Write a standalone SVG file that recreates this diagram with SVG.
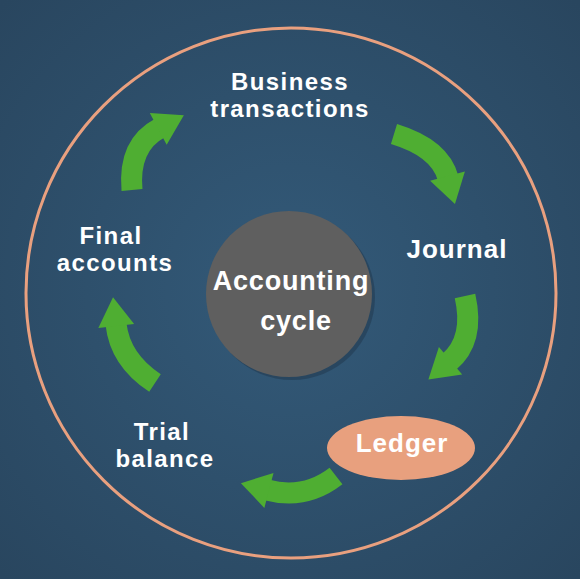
<svg xmlns="http://www.w3.org/2000/svg" width="580" height="579" viewBox="0 0 580 579">
<defs>
<radialGradient id="bg" cx="50%" cy="50%" r="70%">
<stop offset="0" stop-color="#335a79"/>
<stop offset="1" stop-color="#29465f"/>
</radialGradient>
<marker id="head" markerUnits="userSpaceOnUse" markerWidth="40" markerHeight="40" refX="0" refY="0" orient="auto" overflow="visible">
<path d="M-2,-18 L27,0 L-2,18 Z" fill="#4fae32"/>
</marker>
<style>
.lbl{font-family:"Liberation Sans",Arial,sans-serif;font-weight:700;fill:#ffffff;text-anchor:middle;font-size:24px;letter-spacing:1.4px}
.one{font-size:26px;letter-spacing:1px}
.big{font-size:27px;letter-spacing:0.8px}
.arr{fill:none;stroke:#4fae32;stroke-width:21;stroke-linecap:butt;marker-end:url(#head)}
</style>
</defs>
<rect width="580" height="579" fill="url(#bg)"/>
<circle cx="291" cy="293" r="265" fill="none" stroke="#e9a07f" stroke-width="3"/>
<g id="center">
<circle cx="292" cy="297" r="83" fill="#1f3447" opacity="0.45"/>
<circle cx="289" cy="294" r="83" fill="#5f5f5f"/>
<text class="lbl big" x="291" y="290">Accounting</text>
<text class="lbl big" x="296" y="330">cycle</text>
</g>
<g id="business">
<text class="lbl" x="290" y="90">Business</text>
<text class="lbl" x="290" y="117">transactions</text>
</g>
<g id="journal">
<text class="lbl one" x="457" y="258">Journal</text>
</g>
<g id="ledger">
<ellipse cx="401" cy="448" rx="74" ry="32" fill="#e8a07e"/>
<text class="lbl one" x="402" y="452">Ledger</text>
</g>
<g id="trial">
<text class="lbl" x="162" y="440">Trial</text>
<text class="lbl" x="165" y="467">balance</text>
</g>
<g id="final">
<text class="lbl" x="111" y="244">Final</text>
<text class="lbl" x="115" y="271">accounts</text>
</g>
<g id="connectors">
<path class="arr" d="M394,134 Q440,148 448,178"/>
<path class="arr" d="M465,296 Q475,340 449,362"/>
<path class="arr" d="M336,476 Q305,500 267,490"/>
<path class="arr" d="M155,383 Q120,360 116,324"/>
<path class="arr" d="M132,190 Q128,145 160,128"/>
</g>
</svg>
